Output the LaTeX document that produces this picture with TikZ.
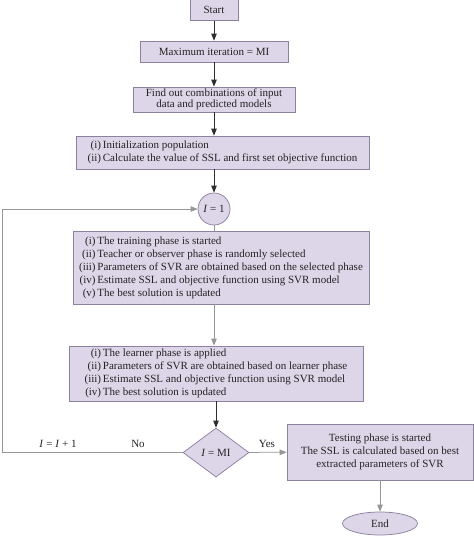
\documentclass[tikz,border=0pt]{standalone}
\usepackage{fontspec}
\setmainfont{Liberation Serif}
\usetikzlibrary{arrows.meta,shapes.geometric}

\definecolor{boxfill}{RGB}{221,214,232}
\definecolor{boxline}{RGB}{140,130,160}
\definecolor{darkline}{RGB}{45,45,45}
\definecolor{lightline}{RGB}{150,150,150}
\definecolor{inktext}{RGB}{35,35,35}

\tikzset{every picture/.style={line width=0.75pt}}
\tikzset{
  flowbox/.style={draw=boxline,fill=boxfill,rectangle,inner sep=0pt,align=center,text=inktext,font=\fontsize{11}{13}\selectfont},
  darkarrow/.style={draw=darkline,-{Triangle[length=7pt,width=5.5pt]}},
  lightarrow/.style={draw=lightline,-{Triangle[length=7pt,width=5.5pt]}},
  lightwire/.style={draw=lightline},
  sidelabel/.style={inner sep=0.75pt,text=inktext,font=\fontsize{11}{13}\selectfont}
}

\begin{document}
\begin{tikzpicture}[x=1pt,y=1pt,yscale=-1,xscale=1]
	\useasboundingbox (0,0) rectangle (474,547);
	
	%Shape: Rectangle [id:start]
	\node [flowbox,minimum width=48pt,minimum height=21pt] (start) at (214,10) {Start};
	%Shape: Rectangle [id:maxit]
	\node [flowbox,minimum width=148pt,minimum height=21pt] (maxit) at (214,51.5) {Maximum iteration = MI};
	%Shape: Rectangle [id:findout]
	\node [flowbox,minimum width=162pt,minimum height=25pt,font=\fontsize{11}{11.5}\selectfont] (findout) at (214,99.5) {Find out combinations of input\\data and predicted models};
	%Shape: Rectangle [id:init]
	\node [flowbox,minimum width=293pt,minimum height=33pt] (init) at (222.5,152.5) {%
		\begin{tabular}{@{}r@{\,}l@{}}
		(i) & Initialization population\\
		(ii) & Calculate the value of SSL and first set objective function
		\end{tabular}};
	%Shape: Circle [id:one]
	\node [flowbox,circle,minimum size=32pt] (one) at (214,209) {\textit{I} = 1};
	%Shape: Rectangle [id:train]
	\node [flowbox,minimum width=296pt,minimum height=73pt] (train) at (221,267.5) {%
		\begin{tabular}{@{}r@{\,}l@{}}
		(i) & The training phase is started\\
		(ii) & Teacher or observer phase is randomly selected\\
		(iii) & Parameters of SVR are obtained based on the selected phase\\
		(iv) & Estimate SSL and objective function using SVR model\\
		(v) & The best solution is updated
		\end{tabular}};
	%Shape: Rectangle [id:learn]
	\node [flowbox,minimum width=294pt,minimum height=55pt] (learn) at (216,373.5) {%
		\begin{tabular}{@{}r@{\,}l@{}}
		(i) & The learner phase is applied\\
		(ii) & Parameters of SVR are obtained based on learner phase\\
		(iii) & Estimate SSL and objective function using SVR model\\
		(iv) & The best solution is updated
		\end{tabular}};
	%Shape: Diamond [id:dec]
	\node [flowbox,diamond,minimum width=66pt,minimum height=49pt] (dec) at (216,452.5) {\textit{I} = MI};
	%Shape: Rectangle [id:test]
	\node [flowbox,minimum width=186pt,minimum height=56pt] (test) at (380,452) {Testing phase is started\\The SSL is calculated based on best\\extracted parameters of SVR};
	%Shape: Ellipse [id:finish]
	\node [flowbox,ellipse,minimum width=75pt,minimum height=23pt] (finish) at (380,523.5) {End};
	
	%Loop corners
	\coordinate (loopbot) at (2,452.5);
	\coordinate (looptop) at (2,209);
	
	%Straight Lines
	\draw [darkarrow] (start) -- (maxit);
	\draw [darkarrow] (maxit) -- (findout);
	\draw [darkarrow] (findout) -- (init.north -| findout);
	\draw [darkarrow] (init.south -| one) -- (one);
	\draw [lightwire] (one) -- (train.north -| one);
	\draw [lightarrow] (train.south -| one) -- (learn.north -| one);
	\draw [darkarrow] (learn.south -| dec) -- (dec);
	\draw [lightarrow] (dec) -- (test);
	\draw [lightarrow] (test) -- (finish);
	\draw [lightarrow] (dec) -- (loopbot) -- (looptop) -- (one);
	
	% Text Node
	\node [sidelabel,anchor=south] (incr) at (58,449) {\textit{I} = \textit{I} + 1};
	% Text Node
	\node [sidelabel,anchor=south] (nolab) at (138,449) {No};
	% Text Node
	\node [sidelabel,anchor=south] (yeslab) at (267,449) {Yes};
	
\end{tikzpicture}
\end{document}
